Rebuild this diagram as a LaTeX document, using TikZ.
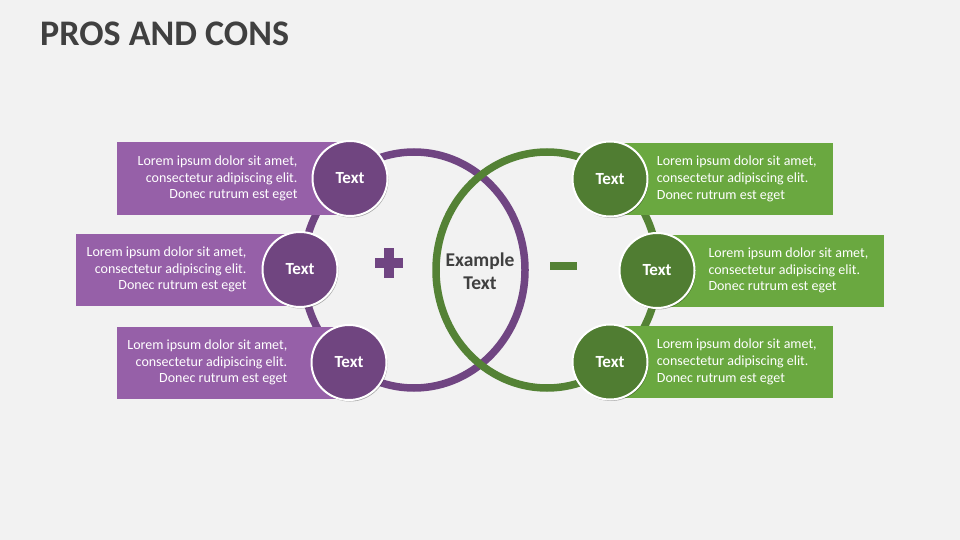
\documentclass[tikz,border=0pt]{standalone}
\usepackage{fontspec}
\setmainfont{Carlito}
\usetikzlibrary{positioning,shadows,shapes.geometric}
\definecolor{bgcol}{RGB}{242,242,242}
\definecolor{titlecol}{RGB}{64,64,64}
\definecolor{proboxcol}{RGB}{150,96,168}
\definecolor{procirccol}{RGB}{112,69,128}
\definecolor{proringcol}{RGB}{112,69,130}
\definecolor{conboxcol}{RGB}{106,168,64}
\definecolor{concirccol}{RGB}{80,125,50}
\definecolor{conringcol}{RGB}{84,130,53}
\tikzset{
	ring/.style={ellipse, draw, line width=7.5pt, minimum width=222pt, minimum height=236pt, inner sep=0pt},
	probox/.style={fill=proboxcol, minimum height=72pt, inner sep=0pt, anchor=east},
	conbox/.style={fill=conboxcol, minimum height=72pt, inner sep=0pt, anchor=west},
	bubble/.style={circle, draw=white, line width=2pt, minimum size=75pt, inner sep=0pt, text=white,
		font=\fontsize{17}{20}\selectfont\bfseries,
		drop shadow={shadow xshift=1pt, shadow yshift=-1.5pt, opacity=.3, fill=black}},
	procirc/.style={bubble, fill=procirccol},
	concirc/.style={bubble, fill=concirccol},
	lorem/.style={inner sep=0pt, text=white, font=\fontsize{14}{16.8}\selectfont},
	protext/.style={lorem, align=right},
	context/.style={lorem, align=left},
}
\newcommand{\lorem}{Lorem ipsum dolor sit amet,\\consectetur adipiscing elit.\\Donec rutrum est eget}

\begin{document}
\begin{tikzpicture}[x=1pt,y=-1pt]
	\fill[bgcol] (0,0) rectangle (960,540);
	\node[anchor=base west, inner sep=0pt, text=titlecol, font=\fontsize{36}{40}\selectfont\bfseries] (head) at (40,46) {PROS AND CONS};

	\node[ring, draw=proringcol] (pring) at (414,270) {};
	\node[ring, draw=conringcol] (cring) at (547,270) {};

	\coordinate (p1) at (350,178.5);
	\coordinate (p2) at (300,269.5);
	\coordinate (p3) at (349,362.5);
	\coordinate (c1) at (610,179);
	\coordinate (c2) at (657,270.5);
	\coordinate (c3) at (610,362);

	\node[probox, minimum width=233pt] (pb1) at (p1) {};
	\node[probox, minimum width=224pt] (pb2) at (p2) {};
	\node[probox, minimum width=232pt] (pb3) at (p3) {};
	\node[conbox, minimum width=223pt] (cb1) at (c1) {};
	\node[conbox, minimum width=227pt] (cb2) at (c2) {};
	\node[conbox, minimum width=223pt] (cb3) at (c3) {};

	\node[procirc] (pc1) at (p1) {Text};
	\node[procirc] (pc2) at (p2) {Text};
	\node[procirc] (pc3) at (p3) {Text};
	\node[concirc] (cc1) at (c1) {Text};
	\node[concirc] (cc2) at (c2) {Text};
	\node[concirc] (cc3) at (c3) {Text};

	\node[protext, left=13.8pt of pc1] (pt1) {\lorem};
	\node[protext, left=14.8pt of pc2] (pt2) {\lorem};
	\node[protext, left=23pt of pc3] (pt3) {\lorem};
	\node[context, right=8.2pt of cc1] (ct1) {\lorem};
	\node[context, right=12.8pt of cc2] (ct2) {\lorem};
	\node[context, right=8.2pt of cc3] (ct3) {\lorem};

	\node[align=center, inner sep=0pt, text=titlecol, font=\fontsize{19.5}{23.5}\selectfont\bfseries] (mid) at (480,271) {Example\\Text};

	\fill[proringcol] (384.2,248.3) rectangle (394.2,278.3);
	\fill[proringcol] (375,258.3) rectangle (403.4,268.3);
	\fill[conringcol] (550,261.7) rectangle (576.7,270);
\end{tikzpicture}
\end{document}
